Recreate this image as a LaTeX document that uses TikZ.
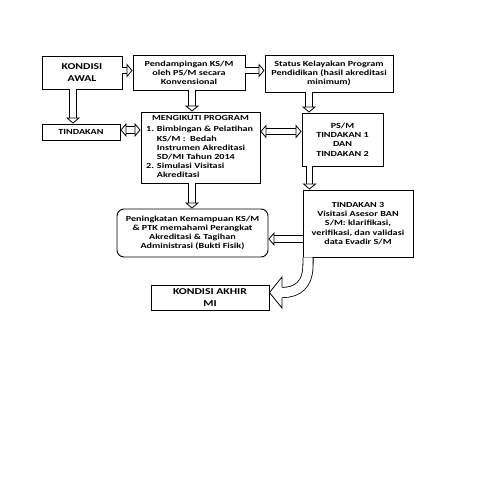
\documentclass[tikz,border=0pt]{standalone}
\usepackage{fontspec}
\setmainfont{Carlito}[FakeStretch=1.3,BoldFont={Carlito Bold},
  BoldFeatures={FakeStretch=1.3}]
\usetikzlibrary{arrows.meta}

\begin{document}
\begin{tikzpicture}[x=1pt,y=-1pt,
  box/.style={draw,line width=0.9pt,align=center,inner sep=1pt,
    font=\bfseries\fontsize{7.8}{9.2}\selectfont},
  bigbox/.style={box,font=\bfseries\fontsize{9}{11.5}\selectfont},
  hollow/.style={double,double distance=5.5pt,line width=0.8pt,
    -{Triangle[open,length=6pt,width=14pt]}},
  hollowboth/.style={hollow,
    {Triangle[open,length=6pt,width=14pt]}-{Triangle[open,length=6pt,width=14pt]}},
  bigshaft/.style={double,double distance=9.4pt,line width=0.8pt}]
\useasboundingbox (0,0) rectangle (495,495);

% Top row
\node[bigbox,minimum width=80pt,minimum height=33pt] (awal) at (82,72.5) {KONDISI\\AWAL};
\node[box,minimum width=112pt,minimum height=35pt] (damping) at (189,72.5)
  {Pendampingan KS/M\\oleh PS/M secara\\Konvensional};
\node[box,minimum width=128pt,minimum height=37pt] (status) at (329,73.5)
  {Status Kelayakan Program\\Pendidikan (hasil akreditasi\\minimum)};

% Middle row
\node[box,minimum width=78pt,minimum height=16pt] (tindakan) at (81,132) {TINDAKAN};
\node[box,minimum width=119pt,minimum height=71pt] (ikut) at (200.5,147.5) {%
  \begin{tabular}{@{}l@{\hspace{3pt}}l@{}}
  \multicolumn{2}{c}{MENGIKUTI PROGRAM}\\[2pt]
  1. & Bimbingan \& Pelatihan\\
     & KS/M :\ \ Bedah\\
     & Instrumen Akreditasi\\
     & SD/MI Tahun 2014\\
  2. & Simulasi Visitasi\\
     & Akreditasi
  \end{tabular}};
\node[box,minimum width=81pt,minimum height=53pt] (psm) at (342.5,139.5)
  {PS/M\\TINDAKAN 1\\DAN\\TINDAKAN 2};

% Bottom row
\node[box,minimum width=110pt,minimum height=67pt] (tind3) at (358,223.5)
  {TINDAKAN 3\\Visitasi Asesor BAN\\S/M: klarifikasi,\\verifikasi, dan validasi\\data Evadir S/M};
\node[box,rounded corners=7pt,minimum width=151pt,minimum height=48pt] (tingkat) at (192.5,233)
  {Peningkatan Kemampuan KS/M\\\& PTK memahami Perangkat\\Akreditasi \& Tagihan\\Administrasi (Bukti Fisik)};
\node[bigbox,minimum width=118pt,minimum height=25pt] (akhir) at (210,297.5) {KONDISI AKHIR\\MI};

% Arrows
\draw[hollow] ([yshift=2pt]awal.east) -- ([yshift=2pt]awal.east -| damping.west);
\draw[hollow] ([yshift=2pt]damping.east) -- ([yshift=2pt]damping.east -| status.west);
\draw[hollow] ([xshift=-9pt]awal.south) -- ([xshift=-9pt]awal.south |- tindakan.north);
\draw[hollow] ([xshift=3pt]damping.south) -- ([xshift=3pt]damping.south |- ikut.north);
\draw[hollow] ([xshift=-20pt]status.south) -- ([xshift=-20pt]status.south |- psm.north);
\draw[hollowboth] ([yshift=2pt]tindakan.east) -- ([yshift=2pt]tindakan.east -| ikut.west);
\draw[hollowboth] ([yshift=8pt]psm.west) -- ([yshift=8pt]psm.west -| ikut.east);
\draw[hollow] ([xshift=-33pt]psm.south) -- ([xshift=-33pt]psm.south |- tind3.north);
\draw[hollow] ([xshift=-8.5pt]ikut.south) -- ([xshift=-8.5pt]ikut.south |- tingkat.north);
\draw[hollow] ([yshift=-15.5pt]tind3.west) -- ([yshift=-15.5pt]tind3.west -| tingkat.east);

% Big curved arrow to the final condition
\draw[bigshaft] ([xshift=-50pt]tind3.south) -- ++(0,7)
  .. controls +(0,20) and (298,292.5) .. (282,292.5) coordinate (hb);
\fill[white] ([yshift=15.5pt]hb) -- ([yshift=5pt]akhir.east) -- ([yshift=-15.5pt]hb) -- cycle;
\draw[line width=0.8pt,line join=miter] ([yshift=5.5pt]hb) -- ([yshift=15.5pt]hb)
  -- ([yshift=5pt]akhir.east) -- ([yshift=-15.5pt]hb) -- ([yshift=-5.5pt]hb);

\end{tikzpicture}
\end{document}
